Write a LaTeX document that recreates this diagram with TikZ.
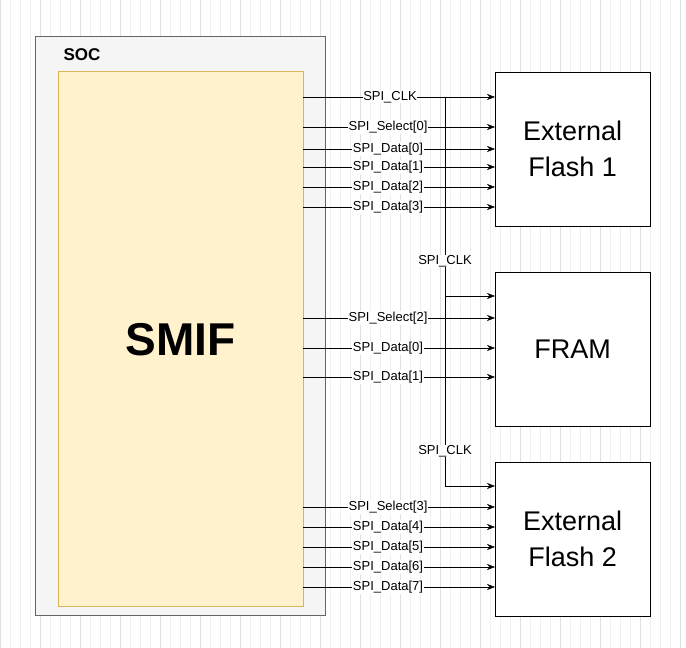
\documentclass[tikz,border=0pt]{standalone}
\usepackage{fontspec}
\setmainfont{Liberation Sans}
\usetikzlibrary{arrows.meta}
\begin{document}
\begin{tikzpicture}[x=1pt,y=-1pt,
  sig/.style={draw=black,-{Stealth[length=8pt,width=6pt]}},
  lab/.style={fill=white,inner sep=0.5pt,font=\fontsize{13}{14}\selectfont},
  chip/.style={draw=black,fill=white,font=\fontsize{27}{32}\selectfont,align=center}]
\useasboundingbox (0,0) rectangle (686,648);
\fill[white] (0,0) rectangle (686,648);
\draw[black!6,line width=0.5pt] (0,0) grid[step=10] (686,648);
\draw[black!12,line width=0.5pt] (0,0) grid[step=40] (686,648);
\node[draw=black!60,fill=black!4,minimum width=290pt,minimum height=579pt,anchor=north west,inner sep=0] (soc) at (35,36) {};
\node[anchor=west,font=\bfseries\fontsize{17}{20}\selectfont] (soct) at (60,55) {SOC};
\node[draw={rgb,255:red,214;green,182;blue,86},fill={rgb,255:red,255;green,242;blue,204},minimum width=245pt,minimum height=535pt,anchor=north west,inner sep=0] (smif) at (58,71) {};
\node[font=\bfseries\fontsize{46}{50}\selectfont] (smift) at (180.5,340) {SMIF};
\node[chip,minimum width=155pt,minimum height=154pt,anchor=north west,inner sep=0] (f1) at (495,72) {};
\node[font=\fontsize{27}{36}\selectfont,align=center] at (f1.center) {External\\Flash 1};
\node[chip,minimum width=155pt,minimum height=154pt,anchor=north west,inner sep=0] (fr) at (495,272) {};
\node[font=\fontsize{27}{36}\selectfont] at (fr.center) {FRAM};
\node[chip,minimum width=155pt,minimum height=154pt,anchor=north west,inner sep=0] (f2) at (495,462) {};
\node[font=\fontsize{27}{36}\selectfont,align=center] at (f2.center) {External\\Flash 2};
% clock
\coordinate (c0) at (303,97);
\coordinate (cj) at (445,97);
\coordinate (cb) at (445,296);
\coordinate (cc) at (445,486);
\draw (cj) -- (cc);
\draw[sig] (cc) -- (f2.west |- cc);
\draw[sig] (cb) -- (fr.west |- cb);
\draw[sig] (c0) -- (f1.west |- c0);
\node[lab] at (390,97) {SPI\_CLK};
\node[lab] at (445,261) {SPI\_CLK};
\node[lab] at (445,451) {SPI\_CLK};
% signals
\foreach \y/\t/\b in {127/SPI\_Select[0]/f1,149/SPI\_Data[0]/f1,167/SPI\_Data[1]/f1,187/SPI\_Data[2]/f1,207/SPI\_Data[3]/f1,
  318/SPI\_Select[2]/fr,348/SPI\_Data[0]/fr,377/SPI\_Data[1]/fr,
  507/SPI\_Select[3]/f2,527/SPI\_Data[4]/f2,547/SPI\_Data[5]/f2,567/SPI\_Data[6]/f2,587/SPI\_Data[7]/f2}{
  \coordinate (s) at (303,\y);
  \draw[sig] (s) -- (\b.west |- s);
  \node[lab] at (388,\y) {\t};
}
\end{tikzpicture}
\end{document}
